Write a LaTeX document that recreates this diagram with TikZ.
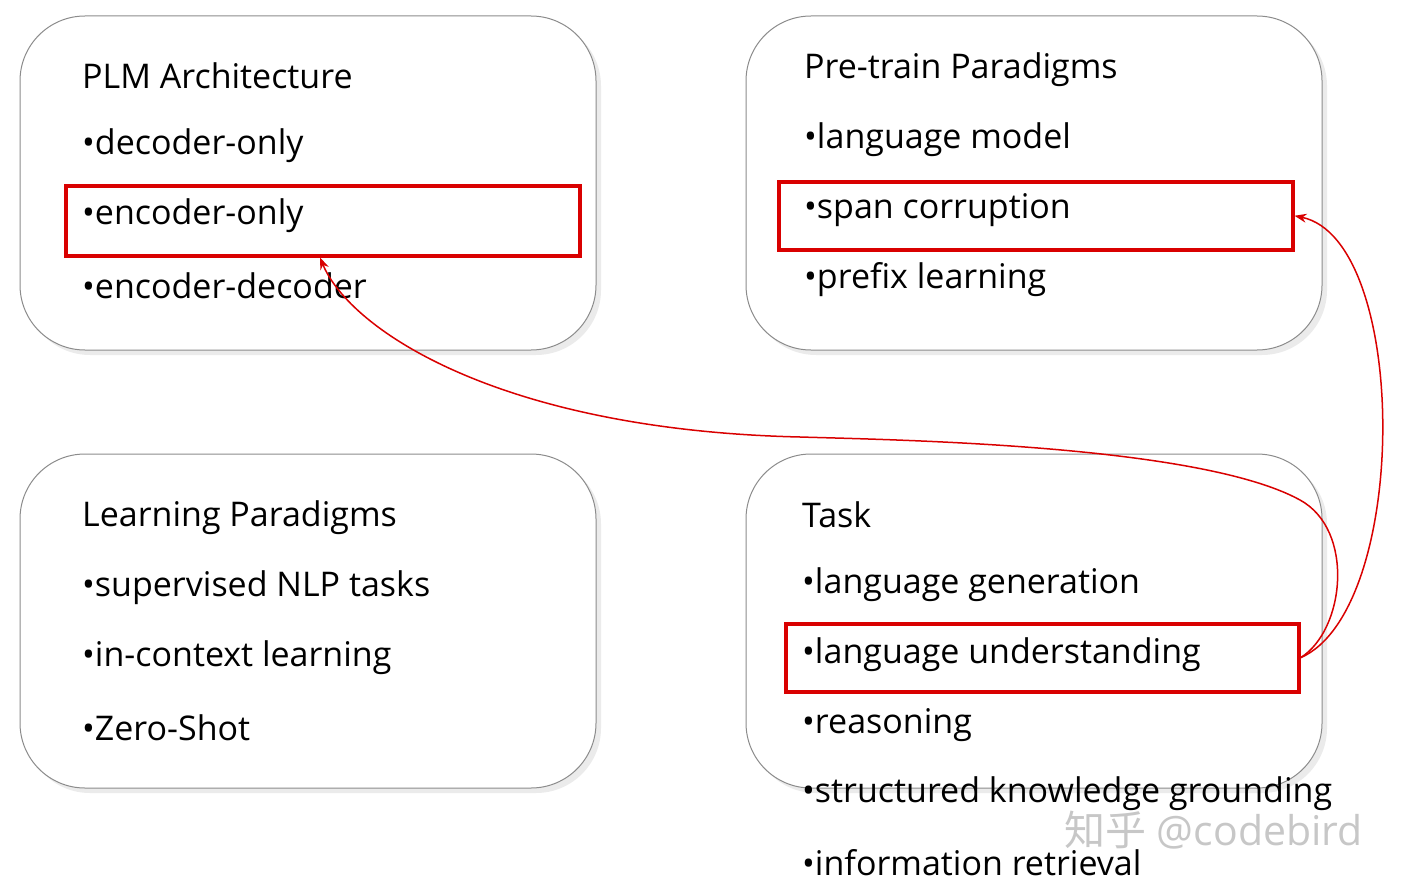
\documentclass[tikz,border=0pt]{standalone}
\usepackage{fontspec}
\setmainfont{Open Sans}
\newfontfamily\cjk{Noto Sans CJK SC}
\usetikzlibrary{arrows.meta}
\begin{document}
\begin{tikzpicture}[x=1pt,y=-1pt,
  card/.style={draw=black!45,line width=1pt,rounded corners=65pt,fill=white},
  shadowcard/.style={fill=black!8,rounded corners=65pt},
  txt/.style={anchor=west,inner sep=0pt,yshift=-3pt,font=\fontsize{34}{38}\selectfont},
  hl/.style={draw=red!85!black,line width=3.5pt,minimum width=#1,minimum height=70pt,inner sep=0pt,anchor=north west},
  conn/.style={draw=red!85!black,line width=1.5pt,-{Stealth[length=12pt,width=9pt]}}]
\useasboundingbox (0,0) rectangle (1412,888);
\foreach \x/\y in {20/16,746/16,20/454,746/454}{
  \fill[shadowcard] (\x+5,\y+5) rectangle ++(576,334);
  \draw[card] (\x,\y) rectangle ++(576,334);
}
% box 1
\node[txt] (a0) at (82,73) {PLM Architecture};
\node[txt] (a1) at (82,143) {•decoder-only};
\node[txt] (a2) at (82,213) {•encoder-only};
\node[txt] (a3) at (82,283) {•encoder-decoder};
% box 2
\node[txt] (b0) at (804,67) {Pre-train Paradigms};
\node[txt] (b1) at (804,137) {•language model};
\node[txt] (b2) at (804,207) {•span corruption};
\node[txt] (b3) at (804,277) {•prefix learning};
% box 3
\node[txt] (c0) at (82,515) {Learning Paradigms};
\node[txt] (c1) at (82,585) {•supervised NLP tasks};
\node[txt] (c2) at (82,655) {•in-context learning};
\node[txt] (c3) at (82,725) {•Zero-Shot};
% box 4
\node[txt] (d0) at (802,512) {Task};
\node[txt] (d1) at (802,582) {•language generation};
\node[txt] (d2) at (802,652) {•language understanding};
\node[txt] (d3) at (802,722) {•reasoning};
\node[txt] (d4) at (802,791) {•structured knowledge grounding};
\node[txt] (d5) at (802,860) {•information retrieval};
% highlights
\node[hl=514pt] (r1) at (64,184) {};
\node[hl=514pt,minimum height=68pt] (r2) at (777,180) {};
\node[hl=513pt,minimum height=68pt] (r3) at (784,622) {};
% watermark
\node[anchor=west,inner sep=0pt,text=black!22,font=\fontsize{41}{46}\selectfont] (wm) at (1064,830) {{\cjk 知乎} @codebird};
% connectors
\path[conn] (r3.east) .. controls (1410,610) and (1410,240) .. (r2.east);
\path[conn] (r3.east) .. controls (1345,630) and (1355,530) .. (1300,500)
  .. controls (1200,445) and (900,440) .. (800,437)
  .. controls (500,430) and (350,330) .. (r1.south west -| 320,255);
\end{tikzpicture}
\end{document}
